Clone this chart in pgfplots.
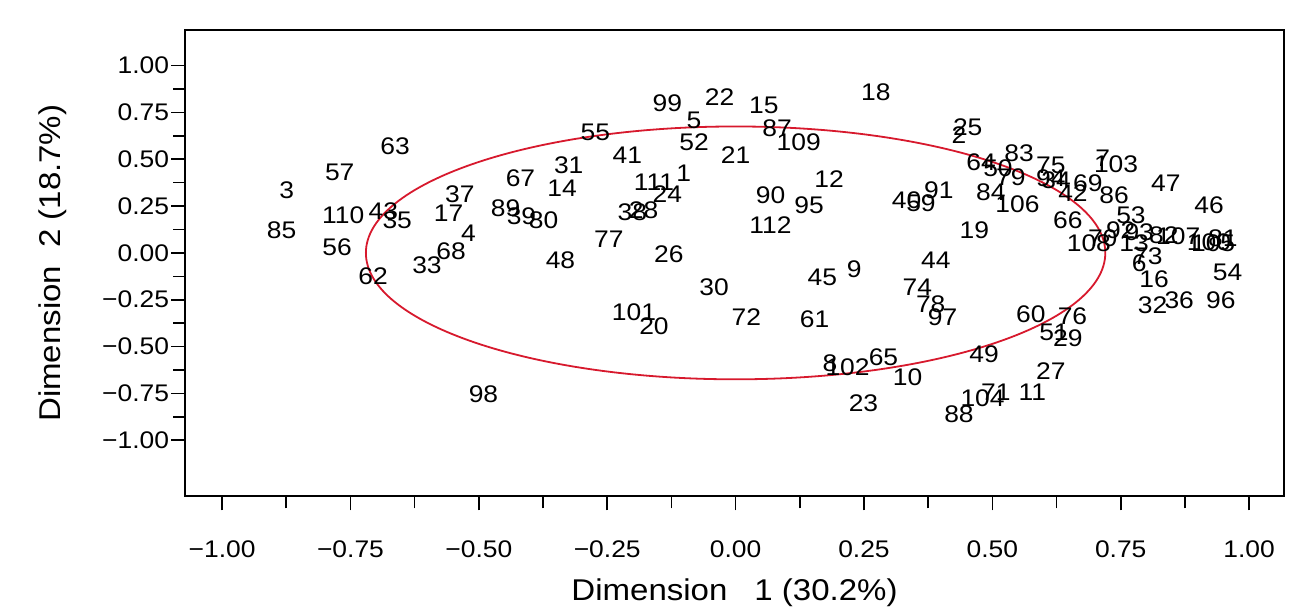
\documentclass[border=0pt]{standalone}
\usepackage{fontspec}
\setmainfont{Liberation Sans}[FakeStretch=1.1]
\usepackage{pgfplots}
\pgfplotsset{compat=1.18}
\usepackage{pgfplotstable}
\definecolor{ellred}{RGB}{215,25,45}
\pgfplotstableread{
x y label
-0.101 0.423 1
0.435 0.628 2
-0.874 0.334 3
-0.520 0.105 4
-0.081 0.708 5
0.786 -0.057 6
0.715 0.503 7
0.184 -0.591 8
0.231 -0.086 9
0.335 -0.666 10
0.578 -0.746 11
0.182 0.396 12
0.776 0.050 13
-0.338 0.343 14
0.055 0.789 15
0.815 -0.139 16
-0.559 0.212 17
0.273 0.860 18
0.465 0.119 19
-0.159 -0.389 20
0.000 0.521 21
-0.031 0.833 22
0.249 -0.805 23
-0.133 0.316 24
0.452 0.672 25
-0.130 -0.005 26
0.614 -0.630 27
-0.179 0.226 28
0.647 -0.455 29
-0.042 -0.184 30
-0.325 0.467 31
0.812 -0.282 32
-0.601 -0.068 33
0.624 0.387 34
-0.659 0.173 35
0.864 -0.255 36
-0.537 0.312 37
-0.201 0.216 38
-0.417 0.194 39
0.333 0.280 40
-0.211 0.521 41
0.657 0.317 42
-0.686 0.223 43
0.390 -0.041 44
0.169 -0.131 45
0.922 0.253 46
0.838 0.371 47
-0.341 -0.041 48
0.484 -0.541 49
0.511 0.451 50
0.620 -0.425 51
-0.081 0.592 52
0.770 0.200 53
0.958 -0.104 54
-0.273 0.646 55
-0.776 0.030 56
-0.771 0.431 57
0.361 0.264 59
0.575 -0.327 60
0.154 -0.353 61
-0.706 -0.122 62
-0.663 0.569 63
0.478 0.485 64
0.288 -0.559 65
0.647 0.173 66
-0.419 0.396 67
-0.554 0.009 68
0.686 0.371 69
0.715 0.077 70
0.507 -0.743 71
0.021 -0.345 72
0.803 -0.020 73
0.354 -0.184 74
0.614 0.467 75
0.656 -0.336 76
-0.247 0.075 77
0.380 -0.273 78
0.536 0.403 79
-0.374 0.173 80
0.949 0.077 81
0.834 0.093 82
0.552 0.530 83
0.497 0.324 84
-0.884 0.119 85
0.737 0.307 86
0.081 0.664 87
0.435 -0.862 88
-0.448 0.236 89
0.068 0.307 90
0.396 0.334 91
0.750 0.119 92
0.786 0.109 93
0.614 0.398 94
0.143 0.253 95
0.945 -0.255 96
0.403 -0.345 97
-0.491 -0.753 98
-0.133 0.798 99
0.922 0.055 100
-0.198 -0.318 101
0.218 -0.612 102
0.741 0.476 103
0.481 -0.775 104
0.930 0.050 105
0.549 0.262 106
0.862 0.087 107
0.688 0.050 108
0.123 0.592 109
-0.764 0.200 110
-0.159 0.378 111
0.068 0.146 112
}\pts
\begin{document}
\begin{tikzpicture}
\useasboundingbox (-92.5pt,-59pt) rectangle (557pt,248pt);
\begin{axis}[
  scale only axis,
  width=549pt, height=233pt,
  xmin=-1.072, xmax=1.068,
  ymin=-1.30, ymax=1.19,
  axis line style={line width=0.9pt},
  tick style={line width=0.8pt, black},
  tick align=outside,
  xtick pos=bottom, ytick pos=left,
  major tick length=7pt, minor tick length=6pt,
  xtick={-1,-0.75,-0.5,-0.25,0,0.25,0.5,0.75,1},
  ytick={-1,-0.75,-0.5,-0.25,0,0.25,0.5,0.75,1},
  minor tick num=1,
  xticklabels={−1.00,−0.75,−0.50,−0.25,0.00,0.25,0.50,0.75,1.00},
  yticklabels={−1.00,−0.75,−0.50,−0.25,0.00,0.25,0.50,0.75,1.00},
  ticklabel style={font=\fontsize{12}{12}\selectfont},
  xticklabel style={yshift=-11.5pt},
  yticklabel style={xshift=2.5pt},
  xlabel={Dimension\hspace{0.9em}1 (30.2\%)},
  ylabel={Dimension\hspace{0.6em}2 (18.7\%)},
  label style={font=\fontsize{15}{15}\selectfont},
  xlabel style={at={(axis description cs:0.5,-0.206)}, anchor=center},
  ylabel style={at={(axis description cs:-0.1202,0.5)}, anchor=center},
  clip=false,
]
\addplot[only marks, mark=none, nodes near coords={\pgfplotspointmeta},
  point meta=explicit symbolic,
  nodes near coords style={anchor=center, inner sep=0pt, font=\fontsize{12}{12}\selectfont}]
  table[x=x, y=y, meta=label] {\pts};
\draw[ellred, line width=0.9pt] (axis cs:0,0) ellipse [x radius=0.72, y radius=0.675];
\end{axis}
\end{tikzpicture}
\end{document}
